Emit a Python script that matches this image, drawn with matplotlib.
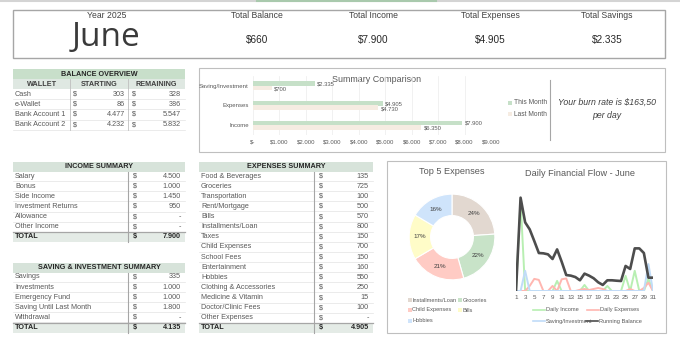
import math
import matplotlib
matplotlib.use("Agg")
import matplotlib.pyplot as plt
import matplotlib.patches as mpatches

W, H = 680, 344

# ---- data ----
year_label = "Year 2025"
month_name = "June"
kpi_labels = ["Total Balance", "Total Income", "Total Expenses", "Total Savings"]
kpi_values = ["$660", "$7.900", "$4.905", "$2.335"]

wallets = ["Cash", "e-Wallet", "Bank Account 1", "Bank Account 2"]
wallet_start = [303, 86, 4477, 4232]
wallet_remaining = [328, 386, 5547, 5832]

income_items = ["Salary", "Bonus", "Side Income", "Investment Returns", "Allowance", "Other Income"]
income_values = [4500, 1000, 1450, 950, 0, 0]

saving_items = ["Savings", "Investments", "Emergency Fund", "Saving Until Last Month", "Withdrawal"]
saving_values = [335, 1000, 1000, 1800, 0]

expense_items = ["Food & Beverages", "Groceries", "Transportation", "Rent/Mortgage", "Bills",
                 "Installments/Loan", "Taxes", "Child Expenses", "School Fees", "Entertainment",
                 "Hobbies", "Clothing & Accessories", "Medicine & Vitamin", "Doctor/Clinic Fees",
                 "Other Expenses"]
expense_values = [135, 725, 100, 500, 570, 800, 150, 700, 150, 160, 550, 250, 15, 100, 0]

cmp_categories = ["Income", "Expenses", "Saving/Investment"]
cmp_this_month = [7900, 4905, 2335]
cmp_last_month = [6350, 4730, 700]
burn_rate = "163,50"

top5_names = ["Installments/Loan", "Groceries", "Child Expenses", "Bills", "Hobbies"]
top5_values = [800, 725, 700, 570, 550]
top5_colors = ["#e2d8d0", "#c8e3c8", "#ffcbc4", "#fffcc8", "#cfe4fb"]

days = list(range(1, 32))
daily_income = [0, 4500, 0, 0, 0, 0, 0, 0, 0, 500, 0, 0, 0, 0, 0, 300, 0, 0, 0, 0,
                250, 0, 0, 0, 750, 0, 1000, 0, 0, 600, 0]
daily_expenses = [0, 0, 0, 250, 600, 550, 0, 0, 250, 0, 580, 620, 0, 0, 60, 100, 50, 100,
                  150, 100, 0, 0, 0, 0, 0, 100, 0, 0, 150, 410, 0]
daily_saving = [0, 0, 1000, 0, 0, 0, 0, 0, 0, 0, 0, 0, 0, 0, 0, 0, 0, 0, 0, 0,
                0, 0, 0, 0, 0, 0, 0, 0, 0, 1335, 0]
running_balance = [0, 4620, 3400, 3050, 2475, 1880, 1865, 1815, 1585, 2060, 1450, 790, 760,
                   690, 530, 860, 760, 630, 430, 300, 530, 530, 510, 495, 1240, 1090, 2110,
                   2110, 1880, 660, 660]


def money(v):
    return "-" if v == 0 else f"{v:,}".replace(",", ".")


plt.rcParams["font.family"] = ["Liberation Sans Narrow", "Liberation Sans", "DejaVu Sans"]
TXT = "#404040"

fig = plt.figure(figsize=(6.8, 3.44), dpi=100)
bg = fig.add_axes([0, 0, 1, 1])
bg.set_xlim(0, W)
bg.set_ylim(H, 0)
bg.axis("off")


def px_axes(x0, y0, x1, y1):
    return fig.add_axes([x0 / W, 1 - y1 / H, (x1 - x0) / W, (y1 - y0) / H])


def box(x0, y0, x1, y1, ec="#bfbfbf", fc="none", lw=0.8):
    bg.add_patch(mpatches.Rectangle((x0, y0), x1 - x0, y1 - y0, ec=ec, fc=fc, lw=lw))


# top stripe
bg.plot([0, W], [0.8, 0.8], color="#d4d4d4", lw=1.5)
bg.plot([257, 436], [0.8, 0.8], color="#a9c9ad", lw=1.5)

# header box
box(13, 10, 665, 58, ec="#a6a6a6", lw=1)
bg.text(107, 16, year_label, ha="center", va="center", fontsize=6.2, color=TXT)
bg.text(106, 37, month_name, ha="center", va="center", fontsize=24, color="#3a3a3a",
        family=["Open Sans", "DejaVu Sans"])
for i, (lab, val) in enumerate(zip(kpi_labels, kpi_values)):
    cx = 257 + i * 116.7
    bg.text(cx, 16, lab, ha="center", va="center", fontsize=6.2, color=TXT)
    bg.text(cx, 40, val, ha="center", va="center", fontsize=7.2, color="#262626")

FS = 5.2

# balance overview
box(13, 69, 185, 79, ec="none", fc="#c8dfca")
bg.text(99, 74, "BALANCE OVERVIEW", ha="center", va="center", fontsize=FS, weight="bold", color="#262626")
box(13, 79, 185, 89, ec="none", fc="#dfe8e2")
for cx, lab in zip([42, 99, 156], ["WALLET", "STARTING", "REMAINING"]):
    bg.text(cx, 84, lab, ha="center", va="center", fontsize=FS, weight="bold", color="#404040")
for i, (w, s, r) in enumerate(zip(wallets, wallet_start, wallet_remaining)):
    y = 94 + 10.2 * i
    bg.plot([13, 185], [y + 5.1, y + 5.1], color="#e3e3e3", lw=0.5)
    bg.text(15, y, w, ha="left", va="center", fontsize=FS, color="#595959")
    bg.text(73, y, "$", ha="left", va="center", fontsize=FS, color="#595959")
    bg.text(125, y, money(s), ha="right", va="center", fontsize=FS, color="#595959")
    bg.text(132, y, "$", ha="left", va="center", fontsize=FS, color="#595959")
    bg.text(181, y, money(r), ha="right", va="center", fontsize=FS, color="#595959")
for x in (70, 128):
    bg.plot([x, x], [79, 130], color="#bfbfbf", lw=0.6)


def summary_table(x0, x1, xsep, y_title, title, items, values, dy):
    box(x0, y_title - 5, x1, y_title + 5, ec="none", fc="#d7e3da")
    bg.text((x0 + x1) / 2, y_title, title, ha="center", va="center", fontsize=FS,
            weight="bold", color="#262626")
    y = y_title
    for i, (it, v) in enumerate(list(zip(items, values)) + [("TOTAL", sum(values))]):
        y = y_title + 9.5 + dy * i
        last = it == "TOTAL"
        if last:
            box(x0, y - 5, x1, y + 5, ec="none", fc="#e4ebe6")
            bg.plot([x0, x1], [y - 5, y - 5], color="#a6a6a6", lw=0.9)
        else:
            bg.plot([x0, x1], [y + dy / 2, y + dy / 2], color="#e3e3e3", lw=0.5)
        wt = "bold" if last else "normal"
        col = "#262626" if last else "#595959"
        bg.text(x0 + 2, y, it, ha="left", va="center", fontsize=FS, color=col, weight=wt)
        bg.text(xsep + 5, y, "$", ha="left", va="center", fontsize=FS, color=col, weight=wt)
        bg.text(x1 - 4, y, money(v), ha="right", va="center", fontsize=FS, color=col, weight=wt)
    bg.plot([xsep, xsep], [y_title + 5, y + 5], color="#a6a6a6", lw=0.8)


summary_table(13, 185, 128, 166.5, "INCOME SUMMARY", income_items, income_values, 10.15)
summary_table(13, 185, 128, 267.5, "SAVING & INVESTMENT SUMMARY", saving_items, saving_values, 10.1)
summary_table(199, 373, 314, 166.5, "EXPENSES SUMMARY", expense_items, expense_values, 10.13)

# ---- summary comparison ----
box(199, 68, 665, 152)
bg.text(377, 79, "Summary Comparison", ha="center", va="center", fontsize=6.4, color="#595959")
bg.plot([550, 550], [80, 140], color="#a6a6a6", lw=0.8)
bg.text(607, 102, f"Your burn rate is ${burn_rate}", ha="center", va="center", fontsize=6.3,
        style="italic", color=TXT)
bg.text(607, 115, "per day", ha="center", va="center", fontsize=6.3, style="italic", color=TXT)
for yy, lab, c in [(103, "This Month", "#c6e0c8"), (114, "Last Month", "#f6ece2")]:
    bg.add_patch(mpatches.Rectangle((508, yy - 2), 4, 4, fc=c, ec="none"))
    bg.text(514, yy, lab, ha="left", va="center", fontsize=4.8, color="#595959")

ax = px_axes(253, 76, 491, 135)
ypos = list(range(len(cmp_categories)))
bh = 0.23
ax.barh([p + bh / 2 for p in ypos], cmp_this_month, height=bh, color="#c6e0c8", zorder=2)
ax.barh([p - bh / 2 for p in ypos], cmp_last_month, height=bh, color="#f6ece2", zorder=2)
for p, a, b in zip(ypos, cmp_this_month, cmp_last_month):
    ax.text(a + 100, p + bh / 2 - 0.02, "$" + money(a), fontsize=4.2, va="center", color="#595959")
    ax.text(b + 100, p - bh / 2 - 0.05, "$" + money(b), fontsize=4.2, va="center", color="#595959")
ax.set_xlim(0, 9000)
ax.set_ylim(-0.5, 2.5)
ax.set_xticks(range(0, 9001, 1000))
ax.set_xticklabels(["$-"] + ["$" + money(v) for v in range(1000, 9001, 1000)])
ax.set_yticks(ypos)
ax.set_yticklabels(cmp_categories)
ax.tick_params(length=0, labelsize=4.3, labelcolor="#595959", pad=3)
ax.grid(axis="x", color="#ececec", lw=0.5, zorder=0)
for s in ax.spines.values():
    s.set_visible(False)
ax.patch.set_alpha(0)

# ---- top 5 / daily flow panel ----
box(387, 161, 666, 333)
bg.text(452, 171, "Top 5 Expenses", ha="center", va="center", fontsize=6.6, color="#595959")
bg.text(580, 174, "Daily Financial Flow - June", ha="center", va="center", fontsize=6.6,
        color="#595959")

pax = px_axes(407, 192, 497, 282)
total5 = sum(top5_values)
pax.pie(top5_values, colors=top5_colors, startangle=90, counterclock=False,
        radius=1, wedgeprops=dict(width=0.5, edgecolor="white", linewidth=0.8))
ang = 90
for v in top5_values:
    span = 360 * v / total5
    mid = math.radians(ang - span / 2)
    pax.text(0.75 * math.cos(mid), 0.75 * math.sin(mid), f"{round(100 * v / total5)}%",
             ha="center", va="center", fontsize=4.5, color="#404040")
    ang -= span
pax.set_xlim(-1.05, 1.05)
pax.set_ylim(-1.05, 1.05)
pax.set_aspect("equal")

leg_pos = [(409, 300), (459, 300), (409, 310), (459, 310), (409, 321)]
for (lx, ly), name, c in zip(leg_pos, top5_names, top5_colors):
    bg.add_patch(mpatches.Rectangle((lx - 1, ly - 2), 3.5, 3.5, fc=c, ec="none"))
    bg.text(lx + 3.5, ly, name, ha="left", va="center", fontsize=4.1, color="#595959")

lax = px_axes(516, 190, 653, 291)
lax.plot(days, daily_income, color="#b8efb2", lw=1.4)
lax.plot(days, daily_expenses, color="#ffb6b0", lw=1.4)
lax.plot(days, daily_saving, color="#c0dcf8", lw=1.4)
lax.plot(days, running_balance, color="#4d4d4d", lw=1.9)
lax.set_xlim(1, 31)
lax.set_ylim(0, 5000)
lax.set_xticks(range(1, 32, 2))
lax.set_yticks([])
lax.tick_params(length=0, labelsize=4.5, labelcolor="#595959", pad=3)
for s in lax.spines.values():
    s.set_visible(False)
lax.patch.set_alpha(0)

line_leg = [(533, 310, "#b8efb2", "Daily Income"), (587, 310, "#ffb6b0", "Daily Expenses"),
            (533, 321, "#c0dcf8", "Saving/Investment"), (586, 321, "#4d4d4d", "Running Balance")]
for lx, ly, c, name in line_leg:
    bg.plot([lx, lx + 12], [ly, ly], color=c, lw=1.2)
    bg.text(lx + 13, ly, name, ha="left", va="center", fontsize=4.1, color="#595959")

fig.savefig("out.png", dpi=100)
